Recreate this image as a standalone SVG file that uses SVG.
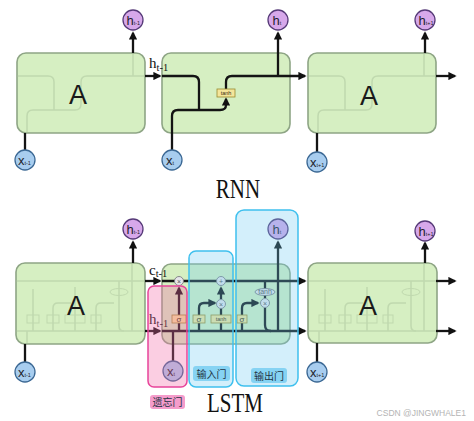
<svg xmlns="http://www.w3.org/2000/svg" width="474" height="421" viewBox="0 0 474 421">
<defs>
<marker id="ar" viewBox="0 0 10 10" refX="8" refY="5" markerWidth="3.6" markerHeight="3.6" orient="auto" markerUnits="strokeWidth">
<path d="M0,0 L10,5 L0,10 z" fill="#111"/>
</marker>
<style>
.box{fill:#d6efc2;stroke:#8ea585;stroke-width:1.6}
.ln{fill:none;stroke:#141414;stroke-width:2.3;stroke-linejoin:round}
.fl{fill:none;stroke:#a6bf98;stroke-width:1.5}
.fg{fill:none;stroke:#a6bf98;stroke-width:1}
.hc{fill:#d7a8ea;stroke:#563a78;stroke-width:1.3}
.xc{fill:#a8cdef;stroke:#3b6894;stroke-width:1.3}
.ct{font-family:"Liberation Sans",Arial,sans-serif;fill:#1e1e2a}
.A{font-family:"Liberation Sans",Arial,sans-serif;font-size:27px;fill:#1a1a1a;text-anchor:middle}
.lab{font-family:"Liberation Serif","Times New Roman",serif;fill:#111}
.gate{fill:#f4e59a;stroke:#9a8a30;stroke-width:0.8}
.gt{font-family:"Liberation Sans",Arial,sans-serif;fill:#3a3010;text-anchor:middle}
.op{fill:#e6e6ea;stroke:#7a7a80;stroke-width:0.9}
.ot{font-family:"Liberation Sans",Arial,sans-serif;font-size:7px;fill:#555;text-anchor:middle}
.cn{font-family:"Noto Sans CJK SC","Noto Sans",sans-serif;font-size:10px;fill:#223344;text-anchor:middle}
</style>
<g id="rf">
<path class="fl" d="M17,76 H48 Q54,76 54,82 V110"/>
<path class="fl" d="M27,133 V116 Q27,110 33,110 H75 Q81,110 81,104 V98"/>
<path class="fl" d="M81,89 V82 Q81,76 87,76 H145"/>
<path class="fl" d="M133,76 V53"/>
</g>
<g id="lf">
<path class="fl" d="M16,281 H144"/>
<path class="fl" d="M16,331 H144"/>
<path class="fl" d="M27,344 V331"/>
<path class="fl" d="M33,331 V289"/>
<path class="fl" d="M53,331 V308 Q53,303 58,303 H71"/>
<path class="fl" d="M75,331 V287"/>
<path class="fl" d="M96,331 V308 Q96,303 101,303 H114"/>
<path class="fl" d="M119,281 V308 V326 Q119,331 124,331"/>
<path class="fl" d="M132,331 V263"/>
<rect class="fg" x="27" y="315" width="12" height="8"/>
<rect class="fg" x="47" y="315" width="12" height="8"/>
<rect class="fg" x="65" y="315" width="20" height="8"/>
<rect class="fg" x="91" y="315" width="10" height="8"/>
<ellipse class="fg" cx="119" cy="292" rx="9" ry="3.5"/>
</g>
</defs>

<rect width="474" height="421" fill="#ffffff"/>

<!-- RNN -->
<g id="rnn-left"><rect class="box" x="17" y="53" width="128" height="80" rx="9"/><use href="#rf" opacity="0.45"/><text class="A" x="78" y="104">A</text></g>
<g id="rnn-mid"><rect class="box" x="162" y="53" width="128" height="80" rx="9"/></g>
<g id="rnn-right"><rect class="box" x="308" y="53" width="128" height="80" rx="9"/><use href="#rf" transform="translate(291,0)" opacity="0.45"/><text class="A" x="369" y="105">A</text></g>

<g id="rnn-connectors">
<path class="ln" d="M133,53 V33" marker-end="url(#ar)"/>
<path class="ln" d="M25,150 V133"/>
<path class="ln" d="M145,76 H160" marker-end="url(#ar)"/>
<path class="ln" d="M162,76 H193 Q199,76 199,82 V110"/>
<path class="ln" d="M172,150 V116 Q172,110 178,110 H220 Q226,110 226,105 V99" marker-end="url(#ar)"/>
<path class="ln" d="M226,89 V82 Q226,76 232,76 H305" marker-end="url(#ar)"/>
<path class="ln" d="M278,76 V33" marker-end="url(#ar)"/>
<path class="ln" d="M425,53 V33" marker-end="url(#ar)"/>
<path class="ln" d="M436,76 H455" marker-end="url(#ar)"/>
<path class="ln" d="M317,152 V133"/>
</g>
<g id="rnn-tanh"><rect class="gate" x="217" y="89" width="18" height="8"/><text class="gt" x="226" y="95.3" font-size="5.5">tanh</text></g>
<text class="lab" x="149" y="68" font-size="15">h<tspan font-size="10.5" dy="3">t-1</tspan></text>

<g id="rnn-h1"><circle class="hc" cx="133" cy="20" r="10"/><text class="ct" x="126.5" y="24.5" font-size="13">h<tspan font-size="5.5">t-1</tspan></text></g>
<g id="rnn-h2"><circle class="hc" cx="278" cy="20" r="10"/><text class="ct" x="272.5" y="24.5" font-size="13">h<tspan font-size="5.5">t</tspan></text></g>
<g id="rnn-h3"><circle class="hc" cx="425" cy="20" r="10"/><text class="ct" x="418.5" y="24.5" font-size="13">h<tspan font-size="5.5">t+1</tspan></text></g>
<g id="rnn-x1"><circle class="xc" cx="25" cy="160" r="10"/><text class="ct" x="18" y="164.5" font-size="13">x<tspan font-size="5.5">t-1</tspan></text></g>
<g id="rnn-x2"><circle class="xc" cx="172" cy="160" r="10"/><text class="ct" x="166" y="164.5" font-size="13">x<tspan font-size="5.5">t</tspan></text></g>
<g id="rnn-x3"><circle class="xc" cx="317" cy="162" r="10"/><text class="ct" x="310" y="166.5" font-size="13">x<tspan font-size="5.5">t+1</tspan></text></g>

<text class="lab" x="238" y="197" font-size="21" text-anchor="middle" transform="translate(0,-58) scale(1,1.3)">RNN</text>

<!-- LSTM -->
<g id="lstm-left"><rect class="box" x="16" y="263" width="129" height="81" rx="9"/><use href="#lf" opacity="0.45"/><text class="A" x="76" y="315">A</text></g>
<g id="lstm-mid"><rect class="box" x="162" y="264" width="128" height="80" rx="9"/></g>
<g id="lstm-right"><rect class="box" x="308" y="263" width="129" height="80" rx="9"/><use href="#lf" transform="translate(292,0)" opacity="0.45"/><text class="A" x="368" y="315">A</text></g>

<g id="lstm-connectors">
<path class="ln" d="M133,263 V242" marker-end="url(#ar)"/>
<path class="ln" d="M25,362 V344"/>
<path class="ln" d="M145,281 H160" marker-end="url(#ar)"/>
<path class="ln" d="M145,331 H160" marker-end="url(#ar)"/>
<path class="ln" d="M162,281 H305" marker-end="url(#ar)"/>
<path class="ln" d="M162,331 H305" marker-end="url(#ar)"/>
<path class="ln" d="M173,361 V331"/>
<path class="ln" d="M179,331 V323"/>
<path class="ln" d="M179,315 V288" marker-end="url(#ar)"/>
<path class="ln" d="M199,331 V323"/>
<path class="ln" d="M199,315 V308 Q199,303 204,303 H215" marker-end="url(#ar)"/>
<path class="ln" d="M221,331 V323"/>
<path class="ln" d="M221,315 V308"/>
<path class="ln" d="M221,299 V288" marker-end="url(#ar)"/>
<path class="ln" d="M242,331 V323"/>
<path class="ln" d="M242,315 V308 Q242,303 247,303 H258" marker-end="url(#ar)"/>
<path class="ln" d="M265,281 V289"/>
<path class="ln" d="M265,295 V298"/>
<path class="ln" d="M265,308 V325 Q265,331 271,331"/>
<path class="ln" d="M278,331 V242" marker-end="url(#ar)"/>
<path class="ln" d="M425,263 V243" marker-end="url(#ar)"/>
<path class="ln" d="M436,281 H455" marker-end="url(#ar)"/>
<path class="ln" d="M436,331 H455" marker-end="url(#ar)"/>
<path class="ln" d="M317,362 V343"/>
</g>

<g id="lstm-gates">
<rect class="gate" x="172" y="315" width="14" height="8"/><text class="gt" x="179" y="322" font-size="8">σ</text>
<rect class="gate" x="193" y="315" width="12" height="8"/><text class="gt" x="199" y="322" font-size="8">σ</text>
<rect class="gate" x="211" y="315" width="20" height="8"/><text class="gt" x="221" y="321.3" font-size="5.5">tanh</text>
<rect class="gate" x="237" y="315" width="10" height="8"/><text class="gt" x="242" y="322" font-size="8">σ</text>
<circle class="op" cx="179" cy="281" r="4.5"/><text class="ot" x="179" y="283.5">×</text>
<circle class="op" cx="221" cy="281" r="4.5"/><text class="ot" x="221" y="283.5">+</text>
<circle class="op" cx="221" cy="304" r="4.5"/><text class="ot" x="221" y="306.5">×</text>
<circle class="op" cx="265" cy="303" r="4.5"/><text class="ot" x="265" y="305.5">×</text>
<ellipse class="op" cx="265" cy="292" rx="10" ry="3.5"/><text class="ot" x="265" y="294" font-size="5">tanh</text>
</g>
<text class="lab" x="149" y="275" font-size="15">c<tspan font-size="10.5" dy="2">t-1</tspan></text>
<text class="lab" x="149" y="324" font-size="15">h<tspan font-size="10.5" dy="3">t-1</tspan></text>

<g id="lstm-h1"><circle class="hc" cx="133" cy="229" r="10"/><text class="ct" x="126.5" y="233.5" font-size="13">h<tspan font-size="5.5">t-1</tspan></text></g>
<g id="lstm-h2"><circle class="hc" cx="278" cy="229" r="10"/><text class="ct" x="272.5" y="233.5" font-size="13">h<tspan font-size="5.5">t</tspan></text></g>
<g id="lstm-h3"><circle class="hc" cx="425" cy="231" r="10"/><text class="ct" x="418.5" y="235.5" font-size="13">h<tspan font-size="5.5">t+1</tspan></text></g>
<g id="lstm-x1"><circle class="xc" cx="25" cy="372" r="10"/><text class="ct" x="18" y="376.5" font-size="13">x<tspan font-size="5.5">t-1</tspan></text></g>
<g id="lstm-x2"><circle class="xc" cx="173" cy="371" r="10"/><text class="ct" x="167" y="375.5" font-size="13">x<tspan font-size="5.5">t</tspan></text></g>
<g id="lstm-x3"><circle class="xc" cx="317" cy="372" r="10"/><text class="ct" x="310" y="376.5" font-size="13">x<tspan font-size="5.5">t+1</tspan></text></g>

<g id="forget-gate">
<rect x="148" y="286" width="39" height="101" rx="6" fill="#f26aa8" fill-opacity="0.33" stroke="#e8449a" stroke-width="1.5"/>
<rect x="150" y="395" width="35" height="14" rx="3" fill="#f59ccb"/>
<text class="cn" x="167.5" y="406">遗忘门</text>
</g>
<g id="input-gate">
<rect x="189" y="251" width="44" height="136" rx="7" fill="#6ccbf2" fill-opacity="0.3" stroke="#3fc0ee" stroke-width="1.5"/>
<rect x="193" y="366" width="37" height="15" rx="3" fill="#86d3f3"/>
<text class="cn" x="211.5" y="377.5">输入门</text>
</g>
<g id="output-gate">
<rect x="236" y="210" width="62" height="176" rx="8" fill="#6ccbf2" fill-opacity="0.3" stroke="#3fc0ee" stroke-width="1.5"/>
<rect x="251" y="368" width="36" height="15" rx="3" fill="#86d3f3"/>
<text class="cn" x="269" y="379.5">输出门</text>
</g>

<text class="lab" x="235" y="412" font-size="21" text-anchor="middle" transform="translate(0,-123.6) scale(1,1.3)">LSTM</text>
<text x="466" y="416" font-family="'Liberation Sans',Arial,sans-serif" font-size="8.5" fill="#b4b4b4" text-anchor="end">CSDN @JINGWHALE1</text>
</svg>
